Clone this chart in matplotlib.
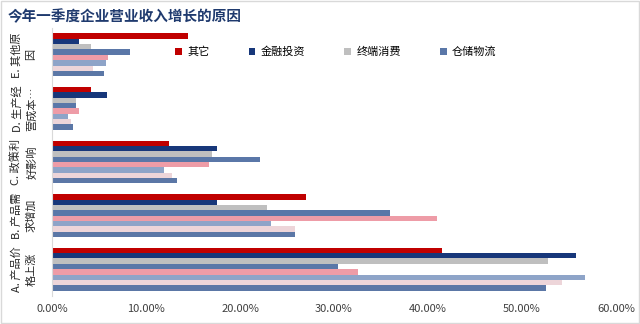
import numpy as np
import matplotlib.pyplot as plt
from matplotlib.ticker import FuncFormatter

plt.rcParams['font.family'] = ['Noto Sans CJK SC', 'DejaVu Sans']

# categories, bottom to top
cats = ['A. 产品价\n格上涨', 'B. 产品需\n求增加', 'C. 政策利\n好影响', 'D. 生产经\n营成本…', 'E. 其他原\n因']

names = ['其它', '金融投资', '终端消费', '仓储物流', '系列5', '系列6', '系列7', '系列8']
colors = ['#C00000', '#17377A', '#BFBFBF', '#5A77A8', '#EE9CA7', '#8EA4C8', '#EDD5D9', '#5B77A6']

# values in %, order follows cats (A..E)
s_other   = [41.5, 27.0, 12.4, 4.1, 14.5]
s_finance = [55.7, 17.5, 17.5, 5.8, 2.9]
s_consume = [52.8, 22.9, 17.0, 2.5, 4.2]
s_logist  = [30.4, 36.0, 22.1, 2.6, 8.3]
s_5       = [32.6, 41.0, 16.7, 2.9, 6.0]
s_6       = [56.7, 23.3, 11.9, 1.7, 5.7]
s_7       = [54.3, 25.8, 12.8, 2.0, 4.4]
s_8       = [52.6, 25.8, 13.3, 2.2, 5.5]
series = [s_other, s_finance, s_consume, s_logist, s_5, s_6, s_7, s_8]

fig = plt.figure(figsize=(6.4, 3.24), dpi=100)
ax = fig.add_axes([52/640, 1-296/324, (616-52)/640, (296-28)/324])

y = np.arange(len(cats))
h = 0.1
bars = []
for i, (vals, c) in enumerate(zip(series, colors)):
    # first series at the top of each group
    b = ax.barh(y + 0.35 - i*h, vals, height=h, color=c, label=names[i])
    bars.append(b)

ax.set_xlim(0, 60)
ax.set_ylim(-0.5, len(cats)-0.5)
ax.set_xticks(np.arange(0, 61, 10))
ax.xaxis.set_major_formatter(FuncFormatter(lambda v, p: '%.2f%%' % v))
ax.set_yticks(y)
ax.set_yticklabels(cats, rotation=90, va='center', ha='center', fontsize=8,
                   multialignment='center', linespacing=1.5, color='#262626')
ax.tick_params(axis='y', length=0, pad=20)
ax.tick_params(axis='x', length=0, labelsize=8, pad=6, colors='#404040')
for s in ['top', 'right', 'bottom']:
    ax.spines[s].set_visible(False)
ax.spines['left'].set_color('#D9D9D9')

fig.legend(bars[:4], names[:4], loc='center', bbox_to_anchor=(0.525, 1-52/324),
           ncol=4, frameon=False, fontsize=8, handlelength=0.6, handleheight=0.6,
           columnspacing=3.5, handletextpad=0.5)

fig.text(8/640, 1-16/324, '今年一季度企业营业收入增长的原因', fontsize=10.5,
         fontweight='bold', color='#1F3A6E', va='center', ha='left')

fig.patches.append(plt.Rectangle((0.001, 0.002), 0.997, 0.995, transform=fig.transFigure,
                                 fill=False, edgecolor='#D9D9D9', lw=1))

plt.savefig('out.png', dpi=100)
